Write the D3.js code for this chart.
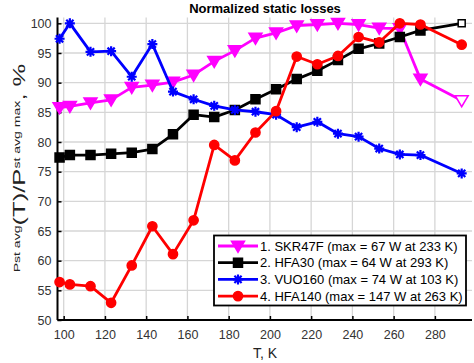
<!DOCTYPE html>
<html>
<head>
<meta charset="utf-8">
<script src="https://cdn.jsdelivr.net/npm/d3@7"></script>
<style>
	body { margin: 0; background: #fff; }
	svg { display: block; font-family: "Liberation Sans", Arial, sans-serif; }
</style>
</head>
<body>
<svg id="chart" width="474" height="363"></svg>
<script>
// temperatures, K
const temps = [98, 103, 113, 123, 133, 143, 153, 163, 173, 183, 193, 203, 213, 223, 233, 243, 253, 263, 273, 293];

// normalized static losses, %
const skr47f = [85.8, 86.0, 86.6, 87.1, 89.2, 89.6, 90.1, 91.3, 93.6, 95.4, 97.5, 98.4, 99.6, 99.8, 100, 99.8, 99.2, 99.1, 90.6, 87.0];
const hfa30  = [77.4, 77.8, 77.8, 78.0, 78.2, 78.8, 81.3, 84.6, 84.2, 85.4, 87.2, 88.9, 90.6, 92.0, 93.8, 95.7, 96.6, 97.7, 98.8, 100];
const vuo160 = [97.4, 100, 95.2, 95.3, 91.0, 96.5, 88.5, 87.2, 86.1, 85.4, 85.1, 84.6, 82.5, 83.4, 81.4, 80.9, 78.9, 77.9, 77.8, 74.7];
const hfa140 = [56.4, 56.0, 55.7, 52.9, 59.2, 65.8, 61.1, 66.8, 79.5, 76.9, 81.6, 85.2, 94.4, 93.1, 94.5, 97.7, 96.8, 100, 99.8, 96.4];

const xTicks = [100, 120, 140, 160, 180, 200, 220, 240, 260, 280];
const yTicks = [50, 55, 60, 65, 70, 75, 80, 85, 90, 95, 100];

const seriesNames = [
	'1. SKR47F (max = 67 W at 233 K)',
	'2. HFA30 (max = 64 W at 293 K)',
	'3. VUO160 (max = 74 W at 103 K)',
	'4. HFA140 (max = 147 W at 263 K)'
];

const series = [
	{name: seriesNames[0], values: skr47f, color: '#ff00ff', marker: 'tri', hollowLast: true},
	{name: seriesNames[1], values: hfa30, color: '#000000', marker: 'square', hollowLast: true},
	{name: seriesNames[2], values: vuo160, color: '#0000ff', marker: 'star', hollowLast: false},
	{name: seriesNames[3], values: hfa140, color: '#ff0000', marker: 'circle', hollowLast: false}
];

const plotLeft = 57.5, plotRight = 472, plotTop = 17.4, plotBottom = 320;

const x = d3.scaleLinear().domain([97, 298]).range([plotLeft, plotRight]);
const y = d3.scaleLinear().domain([50, 101]).range([plotBottom, plotTop]);

const svg = d3.select('#chart');

// grid
svg.append('g')
	.selectAll('line')
	.data(xTicks)
	.join('line')
	.attr('x1', d => x(d)).attr('x2', d => x(d))
	.attr('y1', plotTop).attr('y2', plotBottom)
	.attr('stroke', '#d6d6d6').attr('stroke-width', 1.3);

svg.append('g')
	.selectAll('line')
	.data(yTicks)
	.join('line')
	.attr('x1', plotLeft).attr('x2', plotRight)
	.attr('y1', d => y(d)).attr('y2', d => y(d))
	.attr('stroke', '#d6d6d6').attr('stroke-width', 1.3);

// axes (ticks inward, like matlab)
let xAxis = svg.append('g')
	.attr('transform', `translate(0,${plotBottom})`)
	.call(d3.axisBottom(x).tickValues(xTicks).tickSizeInner(-4).tickSizeOuter(0).tickPadding(10));

let yAxis = svg.append('g')
	.attr('transform', `translate(${plotLeft},0)`)
	.call(d3.axisLeft(y).tickValues(yTicks).tickSizeInner(-4).tickSizeOuter(0).tickPadding(6));

[xAxis, yAxis].forEach(ax => {
	ax.select('.domain').attr('stroke', '#000').attr('stroke-width', 2);
	ax.selectAll('.tick line').attr('stroke', '#000').attr('stroke-width', 1.5);
	ax.selectAll('.tick text')
		.attr('fill', '#333')
		.style('font-size', '12.5px')
		.style('font-family', '"Liberation Sans", Arial, sans-serif');
});
yAxis.select('.domain').attr('d', `M0,${plotTop}V${plotBottom}`);
xAxis.select('.domain').attr('d', `M${plotLeft},0H${plotRight}`);

// marker shapes
const markerPath = {
	tri: 'M-6.5,-4.8L6.5,-4.8L0,6.2Z',
	square: 'M-4.5,-4.5H4.5V4.5H-4.5Z',
	star: 'M-5,0H5M0,-5V5M-3.6,-3.6L3.6,3.6M-3.6,3.6L3.6,-3.6',
	circle: 'M-4.6,0A4.6,4.6 0 1,0 4.6,0A4.6,4.6 0 1,0 -4.6,0Z'
};

function drawMarker(g, s, cx, cy, hollow) {
	let p = g.append('path')
		.attr('d', markerPath[s.marker])
		.attr('transform', `translate(${cx},${cy})`)
		.attr('stroke', s.color)
		.attr('stroke-width', s.marker === 'star' ? 2.2 : 1.5)
		.attr('fill', s.marker === 'star' ? 'none' : (hollow ? '#fff' : s.color));
	if (hollow && s.marker === 'square') p.attr('d', 'M-3.5,-3.5H3.5V3.5H-3.5Z');
}

const line = d3.line()
	.x(d => x(d[0]))
	.y(d => y(d[1]));

series.forEach(s => {
	let pts = temps.map((t, i) => [t, s.values[i]]);
	let g = svg.append('g');
	g.append('path')
		.attr('d', line(pts))
		.attr('fill', 'none')
		.attr('stroke', s.color)
		.attr('stroke-width', 2.8)
		.attr('stroke-linejoin', 'round');
	pts.forEach((p, i) => {
		drawMarker(g, s, x(p[0]), y(p[1]), s.hollowLast && i === pts.length - 1);
	});
});

// legend
let legend = svg.append('g');
legend.append('rect')
	.attr('x', 214).attr('y', 235.5)
	.attr('width', 252).attr('height', 70)
	.attr('fill', '#fff').attr('stroke', '#000').attr('stroke-width', 1.8);

series.forEach((s, i) => {
	let ly = 246 + i * 16.7;
	legend.append('line')
		.attr('x1', 218).attr('x2', 258)
		.attr('y1', ly).attr('y2', ly)
		.attr('stroke', s.color).attr('stroke-width', 2.8);
	drawMarker(legend, s, 238, ly, false);
	legend.append('text')
		.attr('x', 260).attr('y', ly + 4.5)
		.style('font-size', '13px')
		.attr('fill', '#000')
		.text(s.name);
});

// title
svg.append('text')
	.attr('x', 265).attr('y', 12.5)
	.attr('text-anchor', 'middle')
	.style('font-size', '13px').style('font-weight', 'bold')
	.text('Normalized static losses');

// x label
svg.append('text')
	.attr('x', 265).attr('y', 358)
	.attr('text-anchor', 'middle')
	.style('font-size', '14px')
	.attr('fill', '#222')
	.text('T, K');

// y label with sub-texts
let yl = svg.append('text')
	.attr('transform', 'translate(25,168) rotate(-90) scale(1.28,0.85)')
	.attr('text-anchor', 'middle')
	.attr('fill', '#222');
yl.append('tspan').style('font-size', '11px').attr('dy', -6).text('Pst avg');
yl.append('tspan').style('font-size', '20px').attr('dy', 6).text('(T)/P');
yl.append('tspan').style('font-size', '11px').attr('dy', -6).text('st avg max');
yl.append('tspan').style('font-size', '20px').attr('dy', 6).text(', %');
</script>
</body>
</html>
